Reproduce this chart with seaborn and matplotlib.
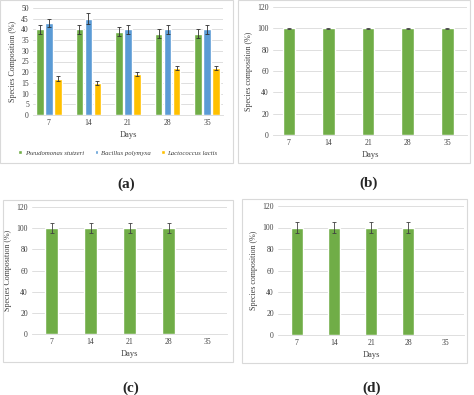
import numpy as np
import pandas as pd
import matplotlib
import matplotlib.pyplot as plt
import seaborn as sns

matplotlib.use('Agg')

sns.set_style("white")
plt.rcParams['font.family'] = ['Liberation Serif', 'DejaVu Serif']

days = ["7", "14", "21", "28", "35"]
species = ["Pseudomonas stutzeri", "Bacillus polymyxa", "Lactococcus lactis"]

# panel (a)
pseudomonas = [40, 40, 39, 38, 38]
pseudomonas_err = [2, 2, 2, 2, 2]
bacillus = [43, 45, 40, 40, 40]
bacillus_err = [2, 2.5, 2, 2, 2]
lactococcus = [17, 15, 19, 22, 22]
lactococcus_err = [1, 1, 1, 1, 1]

# panel (b)
b_values = [100, 100, 100, 100, 100]
b_err = [0.5, 0.5, 0.5, 0.5, 0.5]

# panels (c) and (d): no bar at day 35
c_values = [100, 100, 100, 100, 0]
c_err = [5, 5, 5, 5, np.nan]
d_values = [100, 100, 100, 100, 0]
d_err = [5, 5, 5, 5, np.nan]

green = "#70AD47"
blue = "#5B9BD5"
yellow = "#FFC000"
grid_col = "#D9D9D9"
text_col = "#404040"

W, H = 474, 395
fig = plt.figure(figsize=(W / 100, H / 100), dpi=100)


def px_axes(left, top, right, bottom):
    return fig.add_axes([left / W, 1 - bottom / H, (right - left) / W, (bottom - top) / H])


def frame(left, top, right, bottom):
    fig.patches.append(plt.Rectangle((left / W, 1 - bottom / H), (right - left) / W, (bottom - top) / H,
                                     transform=fig.transFigure, fill=False, edgecolor=grid_col, lw=0.8))


def style(ax, ylab, ymax, step):
    ax.set_ylim(0, ymax)
    ax.set_yticks(np.arange(0, ymax + 1, step))
    ax.yaxis.grid(True, color=grid_col, lw=0.6)
    ax.set_axisbelow(True)
    for s in ["top", "right", "left"]:
        ax.spines[s].set_visible(False)
    ax.spines["bottom"].set_color(grid_col)
    ax.spines["bottom"].set_linewidth(0.6)
    ax.tick_params(length=0, labelsize=5.5, colors=text_col, pad=3)
    ax.set_xlabel("Days", fontsize=6, color=text_col, labelpad=3)
    ax.set_ylabel(ylab, fontsize=5.8, color=text_col, labelpad=3)


def single(ax, values, err, ylab, xlim):
    df = pd.DataFrame({"Days": days, "value": values})
    sns.barplot(data=df, x="Days", y="value", order=days, color=green, width=0.32,
                saturation=1, errorbar=None, ax=ax)
    x = np.arange(len(days))
    e = np.array(err, dtype=float)
    ok = ~np.isnan(e)
    ax.errorbar(x[ok], np.array(values)[ok], yerr=e[ok], fmt="none", ecolor="#404040",
                elinewidth=0.6, capsize=1.5, capthick=0.6)
    ax.set_xlim(*xlim)
    style(ax, ylab, 120, 20)


# (a)
frame(0, 0, 233, 163)
ax_a = px_axes(33, 8, 223, 115)
df_a = pd.DataFrame({
    "Days": days * 3,
    "Species": np.repeat(species, len(days)),
    "value": pseudomonas + bacillus + lactococcus,
})
sns.barplot(data=df_a, x="Days", y="value", hue="Species", order=days, hue_order=species,
            palette=[green, blue, yellow], width=0.68, gap=0.16, saturation=1,
            errorbar=None, ax=ax_a)
slot = 0.68 / 3
for j, (vals, errs) in enumerate([(pseudomonas, pseudomonas_err), (bacillus, bacillus_err),
                                  (lactococcus, lactococcus_err)]):
    xs = np.arange(len(days)) + (j - 1) * slot
    ax_a.errorbar(xs, vals, yerr=errs, fmt="none", ecolor="#303030",
                  elinewidth=0.6, capsize=1.2, capthick=0.6)
ax_a.set_xlim(-0.4, 4.4)
style(ax_a, "Species Composition (%)", 50, 5)
handles, labels = ax_a.get_legend_handles_labels()
ax_a.legend(handles, labels, loc="center", bbox_to_anchor=(118 / W, 1 - 153 / H),
            bbox_transform=fig.transFigure, ncol=3, frameon=False,
            handlelength=0.55, handleheight=0.55, handletextpad=0.35, columnspacing=1.6,
            prop={"style": "italic", "size": 4.9}, labelcolor=text_col)

# (b)
frame(238, 0, 470, 163)
ax_b = px_axes(273, 7, 467, 135)
single(ax_b, b_values, b_err, "Species composition (%)", (-0.4, 4.5))

# (c)
frame(3, 200, 233, 362)
ax_c = px_axes(32, 207, 227, 334)
single(ax_c, c_values, c_err, "Species Composition (%)", (-0.5, 4.5))

# (d)
frame(242, 199, 467, 363)
ax_d = px_axes(278, 206, 464, 335)
single(ax_d, d_values, d_err, "Species composition (%)", (-0.5, 4.5))

for lab, (x, y) in zip(["(a)", "(b)", "(c)", "(d)"],
                       [(126, 184), (369, 183), (131, 388), (372, 388)]):
    fig.text(x / W, 1 - y / H, lab, ha="center", va="center", fontsize=11, fontweight="bold")

fig.savefig("out.png", dpi=100)
plt.close(fig)
